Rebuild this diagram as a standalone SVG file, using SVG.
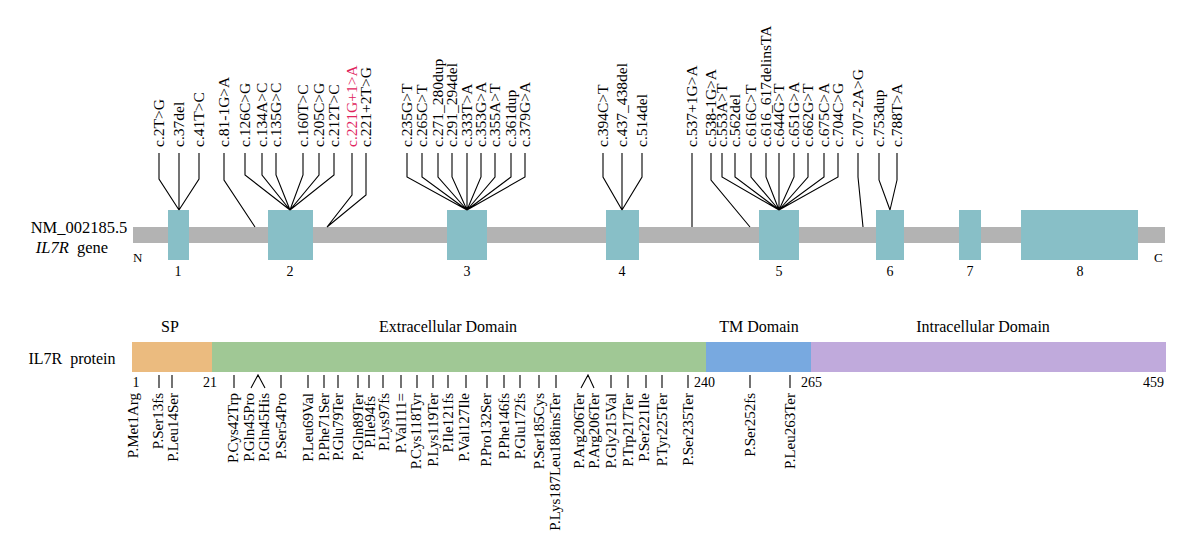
<svg xmlns="http://www.w3.org/2000/svg" width="1200" height="560" viewBox="0 0 1200 560">
<style>
text{font-family:"Liberation Serif","Times New Roman",serif;fill:#000}
.lab{font-size:15.5px}
.plab{font-size:15px}
.num{font-size:14px}
.ex{font-size:14px;text-anchor:middle}
.dom{font-size:16px;text-anchor:middle}
.side{font-size:16.5px;text-anchor:middle}
.conn path{fill:none;stroke:#000;stroke-width:1.1}
.exon{fill:#88BFC7}
.pl{text-anchor:end}
</style>
<rect width="1200" height="560" fill="#fff"/>

<g id="gene-label">
<text class="side" x="79" y="233">NM_002185.5</text>
<text class="side" x="72" y="253" xml:space="preserve"><tspan font-style="italic">IL7R</tspan>  gene</text>
</g>

<g id="gene-backbone">
<rect x="133" y="227" width="1032" height="16" fill="#B3B3B3"/>
<text x="133" y="262" font-size="13">N</text>
<text x="1154" y="262" font-size="13">C</text>
</g>

<g id="exon1"><rect class="exon" x="168" y="210" width="21" height="50"/><text class="ex" x="178" y="276">1</text></g>
<g id="exon2"><rect class="exon" x="268" y="210" width="45" height="50"/><text class="ex" x="290" y="276">2</text></g>
<g id="exon3"><rect class="exon" x="447" y="210" width="40" height="50"/><text class="ex" x="467" y="276">3</text></g>
<g id="exon4"><rect class="exon" x="606" y="210" width="33" height="50"/><text class="ex" x="622" y="276">4</text></g>
<g id="exon5"><rect class="exon" x="759" y="210" width="40" height="50"/><text class="ex" x="779" y="276">5</text></g>
<g id="exon6"><rect class="exon" x="876" y="210" width="28" height="50"/><text class="ex" x="890" y="276">6</text></g>
<g id="exon7"><rect class="exon" x="959" y="210" width="22" height="50"/><text class="ex" x="970" y="276">7</text></g>
<g id="exon8"><rect class="exon" x="1021" y="210" width="117" height="50"/><text class="ex" x="1080" y="276">8</text></g>

<g id="gene-variants" class="lab">
<text transform="translate(163.5 147) rotate(-90)">c.2T&gt;G</text>
<text transform="translate(183.5 147) rotate(-90)">c.37del</text>
<text transform="translate(203.5 147) rotate(-90)">c.41T&gt;C</text>
<text transform="translate(228.5 147) rotate(-90)">c.81-1G&gt;A</text>
<text transform="translate(249.5 147) rotate(-90)">c.126C&gt;G</text>
<text transform="translate(266.5 147) rotate(-90)">c.134A&gt;C</text>
<text transform="translate(280.5 147) rotate(-90)">c.135G&gt;C</text>
<text transform="translate(307.5 147) rotate(-90)">c.160T&gt;C</text>
<text transform="translate(323.5 147) rotate(-90)">c.205C&gt;G</text>
<text transform="translate(338.5 147) rotate(-90)">c.212T&gt;C</text>
<text transform="translate(356.5 147) rotate(-90)" style="fill:#E0245E">c.221G+1&gt;A</text>
<text transform="translate(370.5 147) rotate(-90)">c.221+2T&gt;G</text>
<text transform="translate(411.5 147) rotate(-90)">c.235G&gt;T</text>
<text transform="translate(426.5 147) rotate(-90)">c.265C&gt;T</text>
<text transform="translate(442.5 147) rotate(-90)">c.271_280dup</text>
<text transform="translate(456.5 147) rotate(-90)">c.291_294del</text>
<text transform="translate(471.5 147) rotate(-90)">c.333T&gt;A</text>
<text transform="translate(485.5 147) rotate(-90)">c.353G&gt;A</text>
<text transform="translate(499.5 147) rotate(-90)">c.355A&gt;T</text>
<text transform="translate(515.5 147) rotate(-90)">c.361dup</text>
<text transform="translate(529.5 147) rotate(-90)">c.379G&gt;A</text>
<text transform="translate(607.5 147) rotate(-90)">c.394C&gt;T</text>
<text transform="translate(626.5 147) rotate(-90)">c.437_438del</text>
<text transform="translate(646.5 147) rotate(-90)">c.514del</text>
<text transform="translate(696.5 147) rotate(-90)">c.537+1G&gt;A</text>
<text transform="translate(715.5 147) rotate(-90)">c.538-1G&gt;A</text>
<text transform="translate(726.5 147) rotate(-90)">c.553A&gt;T</text>
<text transform="translate(739.5 147) rotate(-90)">c.562del</text>
<text transform="translate(755.5 147) rotate(-90)">c.616C&gt;T</text>
<text transform="translate(770.5 147) rotate(-90)">c.616_617delinsTA</text>
<text transform="translate(783.5 147) rotate(-90)">c.644G&gt;T</text>
<text transform="translate(798.5 147) rotate(-90)">c.651G&gt;A</text>
<text transform="translate(812.5 147) rotate(-90)">c.662G&gt;T</text>
<text transform="translate(828.5 147) rotate(-90)">c.675C&gt;A</text>
<text transform="translate(842.5 147) rotate(-90)">c.704C&gt;G</text>
<text transform="translate(862.5 147) rotate(-90)">c.707-2A&gt;G</text>
<text transform="translate(883.5 147) rotate(-90)">c.753dup</text>
<text transform="translate(901.5 147) rotate(-90)">c.788T&gt;A</text>
</g>

<g id="connectors" class="conn">
<path d="M159 153V179L179 210M179 153V210M199 153V179L179 210"/>
<path d="M224 153V180L255 227"/>
<path d="M245 153V175L290 210M262 153V175L290 210M276 153V175L290 210M303 153V175L290 210M319 153V175L290 210M334 153V175L290 210"/>
<path d="M352 153V195L327 227M366 153V195L327 227"/>
<path d="M407 153V177L467 210M422 153V177L467 210M438 153V177L467 210M452 153V177L467 210M467 153V210M481 153V177L467 210M495 153V177L467 210M511 153V177L467 210M525 153V177L467 210"/>
<path d="M603 153V177L622 210M622 153V210M642 153V177L622 210"/>
<path d="M692 153V227"/>
<path d="M711 153V180L750 227"/>
<path d="M722 153V177L779 210M735 153V177L779 210M751 153V177L779 210M766 153V177L779 210M779 153V210M794 153V177L779 210M808 153V177L779 210M824 153V177L779 210M838 153V177L779 210"/>
<path d="M858 153V177L863 227"/>
<path d="M879 153V180L890 210M897 153V180L890 210"/>
<path d="M159 375V388M172 375V388M234 375V388M251 388L258 375L265 388M281 375V388M308 375V388M324 375V388M338 375V388M358 375V388M369 375V388M383 375V388M401 375V388M417 375V388M433 375V388M448 375V388M466 375V388M487 375V388M504 375V388M520 375V388M539 375V388M556 375V388M581 388L588 375L594 388M611 375V388M628 375V388M646 375V388M662 375V388M688 375V388M750 375V388M790 375V388"/>
</g>

<g id="protein-label">
<text class="side" x="72" y="364" style="font-size:16px" xml:space="preserve">IL7R  protein</text>
</g>

<g id="protein-bar">
<rect x="132" y="342" width="80" height="30" fill="#EBBB7F"/>
<rect x="212" y="342" width="494" height="30" fill="#A0C895"/>
<rect x="706" y="342" width="105" height="30" fill="#78A9E0"/>
<rect x="811" y="342" width="355" height="30" fill="#C0AADC"/>
</g>

<g id="domains">
<text class="dom" x="170" y="332">SP</text>
<text class="dom" x="448" y="332">Extracellular Domain</text>
<text class="dom" x="759" y="332">TM Domain</text>
<text class="dom" x="983" y="332">Intracellular Domain</text>
</g>

<g id="positions" class="num">
<text x="136" y="387" text-anchor="middle">1</text>
<text x="210" y="387" text-anchor="middle">21</text>
<text x="694" y="387">240</text>
<text x="801" y="387">265</text>
<text x="1164" y="387" text-anchor="end">459</text>
</g>

<g id="protein-variants" class="plab pl">
<text transform="translate(137.5 393) rotate(-90)">P.Met1Arg</text>
<text transform="translate(162.5 393) rotate(-90)">P.Ser13fs</text>
<text transform="translate(177.5 393) rotate(-90)">P.Leu14Ser</text>
<text transform="translate(237.5 393) rotate(-90)">P.Cys42Trp</text>
<text transform="translate(253.5 393) rotate(-90)">P.Gln45Pro</text>
<text transform="translate(268.5 393) rotate(-90)">P.Gln45His</text>
<text transform="translate(285.5 393) rotate(-90)">P.Ser54Pro</text>
<text transform="translate(312.5 393) rotate(-90)">P.Leu69Val</text>
<text transform="translate(328.5 393) rotate(-90)">P.Phe71Ser</text>
<text transform="translate(342.5 393) rotate(-90)">P.Glu79Ter</text>
<text transform="translate(362.5 393) rotate(-90)">P.Gln89Ter</text>
<text transform="translate(374.5 396) rotate(-90)">P.Ile94fs</text>
<text transform="translate(388.5 393) rotate(-90)">P.Lys97fs</text>
<text transform="translate(405.5 393) rotate(-90)">P.Val111=</text>
<text transform="translate(420.5 393) rotate(-90)">P.Cys118Tyr</text>
<text transform="translate(437.5 393) rotate(-90)">P.Lys119Ter</text>
<text transform="translate(452.5 393) rotate(-90)">P.Ile121fs</text>
<text transform="translate(468.5 393) rotate(-90)">P.Val127Ile</text>
<text transform="translate(490.5 393) rotate(-90)">P.Pro132Ser</text>
<text transform="translate(508.5 393) rotate(-90)">P.Phe146fs</text>
<text transform="translate(524.5 393) rotate(-90)">P.Glu172fs</text>
<text transform="translate(543.5 393) rotate(-90)">P.Ser185Cys</text>
<text transform="translate(559.5 393) rotate(-90)">P.Lys187Leu188insTer</text>
<text transform="translate(583.5 393) rotate(-90)">P.Arg206Ter</text>
<text transform="translate(598.5 393) rotate(-90)">P.Arg206Ter</text>
<text transform="translate(615.5 393) rotate(-90)">P.Gly215Val</text>
<text transform="translate(632.5 393) rotate(-90)">P.Trp217Ter</text>
<text transform="translate(648.5 393) rotate(-90)">P.Ser221Ile</text>
<text transform="translate(666.5 393) rotate(-90)">P.Tyr225Ter</text>
<text transform="translate(692.5 393) rotate(-90)">P.Ser235Ter</text>
<text transform="translate(754.5 393) rotate(-90)">P.Ser252fs</text>
<text transform="translate(794.5 393) rotate(-90)">P.Leu263Ter</text>
</g>
</svg>
